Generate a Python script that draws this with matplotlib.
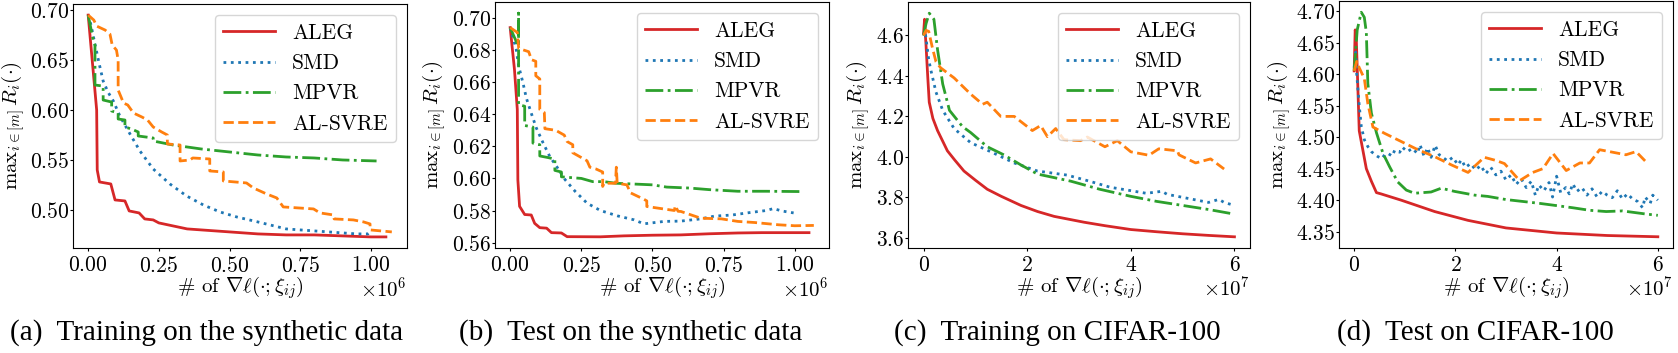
import matplotlib
matplotlib.use("Agg")
import matplotlib.pyplot as plt
from matplotlib.ticker import MultipleLocator

plt.rcParams['font.family'] = 'serif'
plt.rcParams['font.serif'] = ['cmr10', 'DejaVu Serif']
plt.rcParams['mathtext.fontset'] = 'cm'
plt.rcParams['axes.formatter.use_mathtext'] = True
plt.rcParams['axes.unicode_minus'] = False

methods = ['ALEG', 'SMD', 'MPVR', 'AL-SVRE']
colors = ['#d62728', '#1f77b4', '#2ca02c', '#ff7f0e']
styles = ['-', ':', '-.', '--']

captions = ['(a)  Training on the synthetic data', '(b)  Test on the synthetic data',
            '(c)  Training on CIFAR-100', '(d)  Test on CIFAR-100']
x_scales = [1e6, 1e6, 1e7, 1e7]
x_steps = [0.25e6, 0.25e6, 2e7, 2e7]
y_steps = [0.05, 0.02, 0.2, 0.05]

# (a) training, synthetic data (x in 1e6)
a_aleg_x = [0, 0.03, 0.032, 0.04, 0.06, 0.08, 0.095, 0.13, 0.145, 0.18, 0.2, 0.23, 0.25, 0.3,
            0.35, 0.4, 0.5, 0.6, 0.7, 0.8, 0.9, 1.0, 1.053]
a_aleg_y = [0.695, 0.600, 0.540, 0.528, 0.527, 0.526, 0.510, 0.509, 0.499, 0.497, 0.491, 0.490,
            0.487, 0.484, 0.481, 0.480, 0.478, 0.476, 0.475, 0.475, 0.474, 0.473, 0.473]
a_smd_x = [0, 0.01, 0.024, 0.04, 0.053, 0.07, 0.089, 0.112, 0.148, 0.183, 0.23, 0.289, 0.348,
           0.407, 0.466, 0.525, 0.6, 0.643, 0.7, 0.75, 0.8, 0.85, 0.9, 0.95, 0.99, 1.0]
a_smd_y = [0.695, 0.685, 0.666, 0.645, 0.629, 0.618, 0.609, 0.594, 0.576, 0.559, 0.541, 0.526,
           0.514, 0.505, 0.498, 0.493, 0.488, 0.485, 0.481, 0.480, 0.479, 0.478, 0.477, 0.476,
           0.476, 0.478]
a_mpvr_x = [0, 0.02, 0.024, 0.024, 0.053, 0.053, 0.083, 0.083, 0.106, 0.106, 0.13, 0.13, 0.153,
            0.177, 0.177, 0.23, 0.23, 0.3, 0.35, 0.4, 0.5, 0.6, 0.7, 0.8, 0.9, 1.02]
a_mpvr_y = [0.695, 0.667, 0.665, 0.625, 0.624, 0.610, 0.608, 0.599, 0.597, 0.591, 0.590, 0.583,
            0.581, 0.578, 0.574, 0.572, 0.569, 0.565, 0.563, 0.561, 0.558, 0.555, 0.553, 0.552,
            0.550, 0.549]
a_svre_x = [0, 0.02, 0.03, 0.045, 0.06, 0.077, 0.085, 0.1, 0.106, 0.106, 0.125, 0.14, 0.16, 0.19,
            0.21, 0.23, 0.26, 0.28, 0.28, 0.325, 0.325, 0.36, 0.37, 0.43, 0.43, 0.478, 0.478,
            0.56, 0.584, 0.631, 0.667, 0.69, 0.797, 0.82, 0.867, 0.87, 0.938, 0.974, 0.997,
            0.997, 1.074]
a_svre_y = [0.695, 0.690, 0.684, 0.682, 0.680, 0.676, 0.665, 0.660, 0.650, 0.620, 0.607, 0.605,
            0.597, 0.593, 0.590, 0.583, 0.578, 0.575, 0.566, 0.565, 0.549, 0.550, 0.552, 0.551,
            0.539, 0.538, 0.529, 0.527, 0.522, 0.516, 0.512, 0.503, 0.501, 0.497, 0.495, 0.491,
            0.490, 0.488, 0.486, 0.480, 0.478]

# (b) test, synthetic data (x in 1e6)
b_aleg_x = [0, 0.015, 0.025, 0.027, 0.033, 0.051, 0.074, 0.086, 0.104, 0.128, 0.145, 0.18, 0.2,
            0.317, 0.4, 0.5, 0.6, 0.7, 0.8, 0.884, 1.05]
b_aleg_y = [0.694, 0.668, 0.643, 0.599, 0.5826, 0.5775, 0.5772, 0.572, 0.5693, 0.5690, 0.5662,
            0.5660, 0.5637, 0.5636, 0.5642, 0.5646, 0.5648, 0.5655, 0.5660, 0.5662, 0.5662]
b_smd_x = [0, 0.021, 0.03, 0.045, 0.057, 0.074, 0.092, 0.116, 0.139, 0.163, 0.193, 0.228, 0.27,
           0.317, 0.376, 0.435, 0.47, 0.541, 0.6, 0.67, 0.718, 0.78, 0.837, 0.9, 0.925, 0.955,
           0.996]
b_smd_y = [0.694, 0.6807, 0.6699, 0.6595, 0.650, 0.6407, 0.6314, 0.622, 0.6137, 0.6075, 0.5992,
           0.592, 0.5846, 0.580, 0.5767, 0.5742, 0.5717, 0.5732, 0.5734, 0.5748, 0.5765, 0.5772,
           0.5786, 0.5800, 0.5812, 0.5797, 0.5785]
b_mpvr_x = [0, 0.027, 0.0295, 0.0295, 0.0295, 0.051, 0.051, 0.08, 0.08, 0.104, 0.104, 0.133,
            0.157, 0.157, 0.18, 0.18, 0.25, 0.29, 0.33, 0.37, 0.5, 0.55, 0.63, 0.7, 0.8, 0.9, 1.026]
b_mpvr_y = [0.694, 0.683, 0.683, 0.703, 0.646, 0.645, 0.633, 0.632, 0.622, 0.621, 0.614, 0.613,
            0.612, 0.605, 0.604, 0.601, 0.600, 0.598, 0.598, 0.597, 0.596, 0.5946, 0.594, 0.593,
            0.592, 0.592, 0.5918]
b_svre_x = [0, 0.025, 0.03, 0.065, 0.075, 0.09, 0.09, 0.104, 0.104, 0.12, 0.122, 0.16, 0.19,
            0.2, 0.22, 0.22, 0.25, 0.27, 0.28, 0.3, 0.325, 0.325, 0.33, 0.37, 0.373, 0.376, 0.41,
            0.423, 0.47, 0.48, 0.48, 0.577, 0.58, 0.59, 0.6, 0.67, 0.742, 0.8, 0.86, 0.943, 1.0,
            1.067]
b_svre_y = [0.694, 0.691, 0.681, 0.679, 0.674, 0.673, 0.664, 0.662, 0.643, 0.641, 0.631, 0.630,
            0.627, 0.623, 0.621, 0.616, 0.613, 0.611, 0.607, 0.606, 0.604, 0.595, 0.597, 0.597,
            0.607, 0.597, 0.596, 0.591, 0.587, 0.586, 0.5825, 0.580, 0.583, 0.5795, 0.5794,
            0.5752, 0.5748, 0.5732, 0.5725, 0.5711, 0.5705, 0.5707]

# (c) training, CIFAR-100 (x in 1e7)
c_aleg_x = [0, 0.02, 0.03, 0.046, 0.08, 0.11, 0.18, 0.27, 0.46, 0.6, 0.78, 1.0, 1.23, 1.5, 1.88,
            2.2, 2.52, 3.1, 3.5, 4.0, 4.5, 5.0, 5.5, 6.0]
c_aleg_y = [4.608, 4.68, 4.62, 4.56, 4.40, 4.27, 4.19, 4.13, 4.03, 3.985, 3.93, 3.885, 3.84,
            3.805, 3.76, 3.73, 3.706, 3.677, 3.66, 3.641, 3.63, 3.62, 3.612, 3.605]
c_smd_x = [0, 0.03, 0.06, 0.1, 0.14, 0.24, 0.37, 0.59, 0.91, 1.3, 1.75, 2.2, 2.77, 3.2, 3.6,
           4.0, 4.3, 4.6, 4.7, 5.0, 5.3, 5.5, 5.7, 5.8, 6.0]
c_smd_y = [4.60, 4.62, 4.56, 4.48, 4.43, 4.32, 4.23, 4.14, 4.07, 4.025, 3.97, 3.93, 3.91, 3.88,
           3.85, 3.833, 3.82, 3.83, 3.815, 3.80, 3.785, 3.775, 3.79, 3.775, 3.76]
c_mpvr_x = [0, 0.05, 0.11, 0.2, 0.27, 0.37, 0.5, 0.75, 0.91, 1.23, 1.55, 1.88, 2.2, 2.84, 3.4,
            4.0, 4.5, 5.0, 5.5, 6.0]
c_mpvr_y = [4.60, 4.66, 4.71, 4.68, 4.53, 4.36, 4.23, 4.15, 4.12, 4.05, 4.01, 3.96, 3.915, 3.88,
            3.84, 3.805, 3.78, 3.76, 3.74, 3.717]
c_svre_x = [0, 0.05, 0.1, 0.17, 0.24, 0.33, 0.59, 0.91, 1.14, 1.23, 1.49, 1.75, 2.1, 2.26, 2.39,
            2.55, 2.71, 3.03, 3.16, 3.5, 3.74, 4.0, 4.35, 4.54, 4.9, 4.93, 5.25, 5.54, 5.8]
c_svre_y = [4.60, 4.625, 4.62, 4.54, 4.47, 4.44, 4.39, 4.31, 4.26, 4.27, 4.20, 4.20, 4.13, 4.155,
            4.10, 4.14, 4.085, 4.08, 4.098, 4.05, 4.08, 4.025, 4.008, 4.04, 4.03, 4.01, 3.97,
            3.99, 3.94]

# (d) test, CIFAR-100 (x in 1e7)
d_aleg_x = [0, 0.02, 0.04, 0.07, 0.1, 0.17, 0.24, 0.34, 0.44, 0.53, 0.93, 1.59, 2.25, 3.0, 4.0,
            5.0, 6.0]
d_aleg_y = [4.605, 4.67, 4.66, 4.585, 4.51, 4.48, 4.45, 4.43, 4.412, 4.41, 4.40, 4.382, 4.368,
            4.356, 4.348, 4.344, 4.342]
d_smd_x = [0, 0.03, 0.05, 0.1, 0.14, 0.2, 0.27, 0.34, 0.4, 0.47, 0.55, 0.6, 0.67, 0.75, 0.8,
           0.9, 0.95, 1.05, 1.15, 1.25, 1.3, 1.38, 1.45, 1.52, 1.6, 1.68, 1.75, 1.85, 1.95, 2.05,
           2.12, 2.2, 2.3, 2.4, 2.5, 2.6, 2.7, 2.8, 2.9, 3.0, 3.1, 3.2, 3.3, 3.4, 3.5, 3.58, 3.65,
           3.75, 3.85, 3.92, 4.0, 4.08, 4.18, 4.25, 4.32, 4.4, 4.5, 4.6, 4.7, 4.8, 4.9, 5.0, 5.1,
           5.2, 5.3, 5.4, 5.5, 5.6, 5.7, 5.75, 5.85, 5.9, 6.0]
d_smd_y = [4.61, 4.635, 4.60, 4.55, 4.517, 4.496, 4.485, 4.477, 4.473, 4.469, 4.466, 4.472,
           4.474, 4.47, 4.479, 4.476, 4.484, 4.477, 4.482, 4.474, 4.488, 4.47, 4.483, 4.468,
           4.487, 4.472, 4.468, 4.462, 4.468, 4.456, 4.464, 4.452, 4.458, 4.448, 4.455, 4.442,
           4.452, 4.44, 4.446, 4.432, 4.44, 4.425, 4.434, 4.42, 4.43, 4.408, 4.424, 4.415,
           4.428, 4.405, 4.438, 4.412, 4.42, 4.41, 4.426, 4.414, 4.42, 4.408, 4.418, 4.405,
           4.414, 4.408, 4.404, 4.415, 4.402, 4.41, 4.402, 4.398, 4.388, 4.405, 4.395, 4.408,
           4.40]
d_mpvr_x = [0, 0.06, 0.14, 0.2, 0.24, 0.27, 0.34, 0.44, 0.57, 0.7, 0.86, 1.03, 1.19, 1.52, 1.72,
            1.98, 2.38, 2.64, 3.0, 3.66, 4.32, 4.65, 4.98, 5.3, 5.77, 6.0]
d_mpvr_y = [4.605, 4.67, 4.698, 4.69, 4.666, 4.585, 4.538, 4.507, 4.474, 4.453, 4.429, 4.416,
            4.411, 4.413, 4.419, 4.414, 4.408, 4.406, 4.401, 4.395, 4.388, 4.384, 4.382, 4.383,
            4.378, 4.376]
d_svre_x = [0, 0.05, 0.1, 0.2, 0.27, 0.37, 0.6, 0.93, 1.26, 1.59, 1.92, 2.25, 2.57, 2.8, 2.97,
            3.27, 3.53, 3.73, 3.93, 4.19, 4.46, 4.65, 4.85, 5.11, 5.37, 5.57, 5.8]
d_svre_y = [4.605, 4.62, 4.61, 4.593, 4.553, 4.516, 4.506, 4.493, 4.48, 4.469, 4.456, 4.444,
            4.468, 4.463, 4.458, 4.431, 4.444, 4.45, 4.474, 4.447, 4.459, 4.459, 4.48, 4.476,
            4.472, 4.477, 4.458]

panels = [
    [(a_aleg_x, a_aleg_y), (a_smd_x, a_smd_y), (a_mpvr_x, a_mpvr_y), (a_svre_x, a_svre_y)],
    [(b_aleg_x, b_aleg_y), (b_smd_x, b_smd_y), (b_mpvr_x, b_mpvr_y), (b_svre_x, b_svre_y)],
    [(c_aleg_x, c_aleg_y), (c_smd_x, c_smd_y), (c_mpvr_x, c_mpvr_y), (c_svre_x, c_svre_y)],
    [(d_aleg_x, d_aleg_y), (d_smd_x, d_smd_y), (d_mpvr_x, d_mpvr_y), (d_svre_x, d_svre_y)],
]

W, H = 1678, 353
# axes boxes in pixels: left, bottom(from top), width, height
boxes = [(73, 248, 334, 244), (495, 248, 334, 246), (908, 248, 342, 246), (1339, 248, 334, 247)]
caption_x = [207, 631, 1057, 1475]

fig = plt.figure(figsize=(W / 100, H / 100), dpi=100)
for k in range(4):
    l, b, w, h = boxes[k]
    ax = fig.add_axes([l / W, (H - b) / H, w / W, h / H])
    for (xs, ys), name, c, ls in zip(panels[k], methods, colors, styles):
        ax.plot([v * x_scales[k] for v in xs], ys, color=c, linestyle=ls, lw=2, label=name)
    ax.xaxis.set_major_locator(MultipleLocator(x_steps[k]))
    ax.yaxis.set_major_locator(MultipleLocator(y_steps[k]))
    ax.tick_params(labelsize=15.5, length=2.5)
    ax.tick_params(axis='y', pad=0.5, length=2)
    ax.tick_params(axis='x', pad=3)
    ax.xaxis.get_offset_text().set_fontsize(15)
    ax.xaxis.OFFSETTEXTPAD = 0.5
    ax.set_xlabel(r'$\#$ of $\nabla\ell(\cdot;\xi_{ij})$', fontsize=15, labelpad=-1)
    ax.set_ylabel(r'$\mathrm{max}_{i\in[m]}\,R_i(\cdot)$', fontsize=15, labelpad=2.5)
    ax.legend(loc='upper right', fontsize=15.5, handlelength=2.4)
    fig.text(caption_x[k] / W, 1 - 333 / H, captions[k], ha='center', va='center',
             fontsize=21, family='Liberation Serif')

plt.savefig('out.png', dpi=100)
